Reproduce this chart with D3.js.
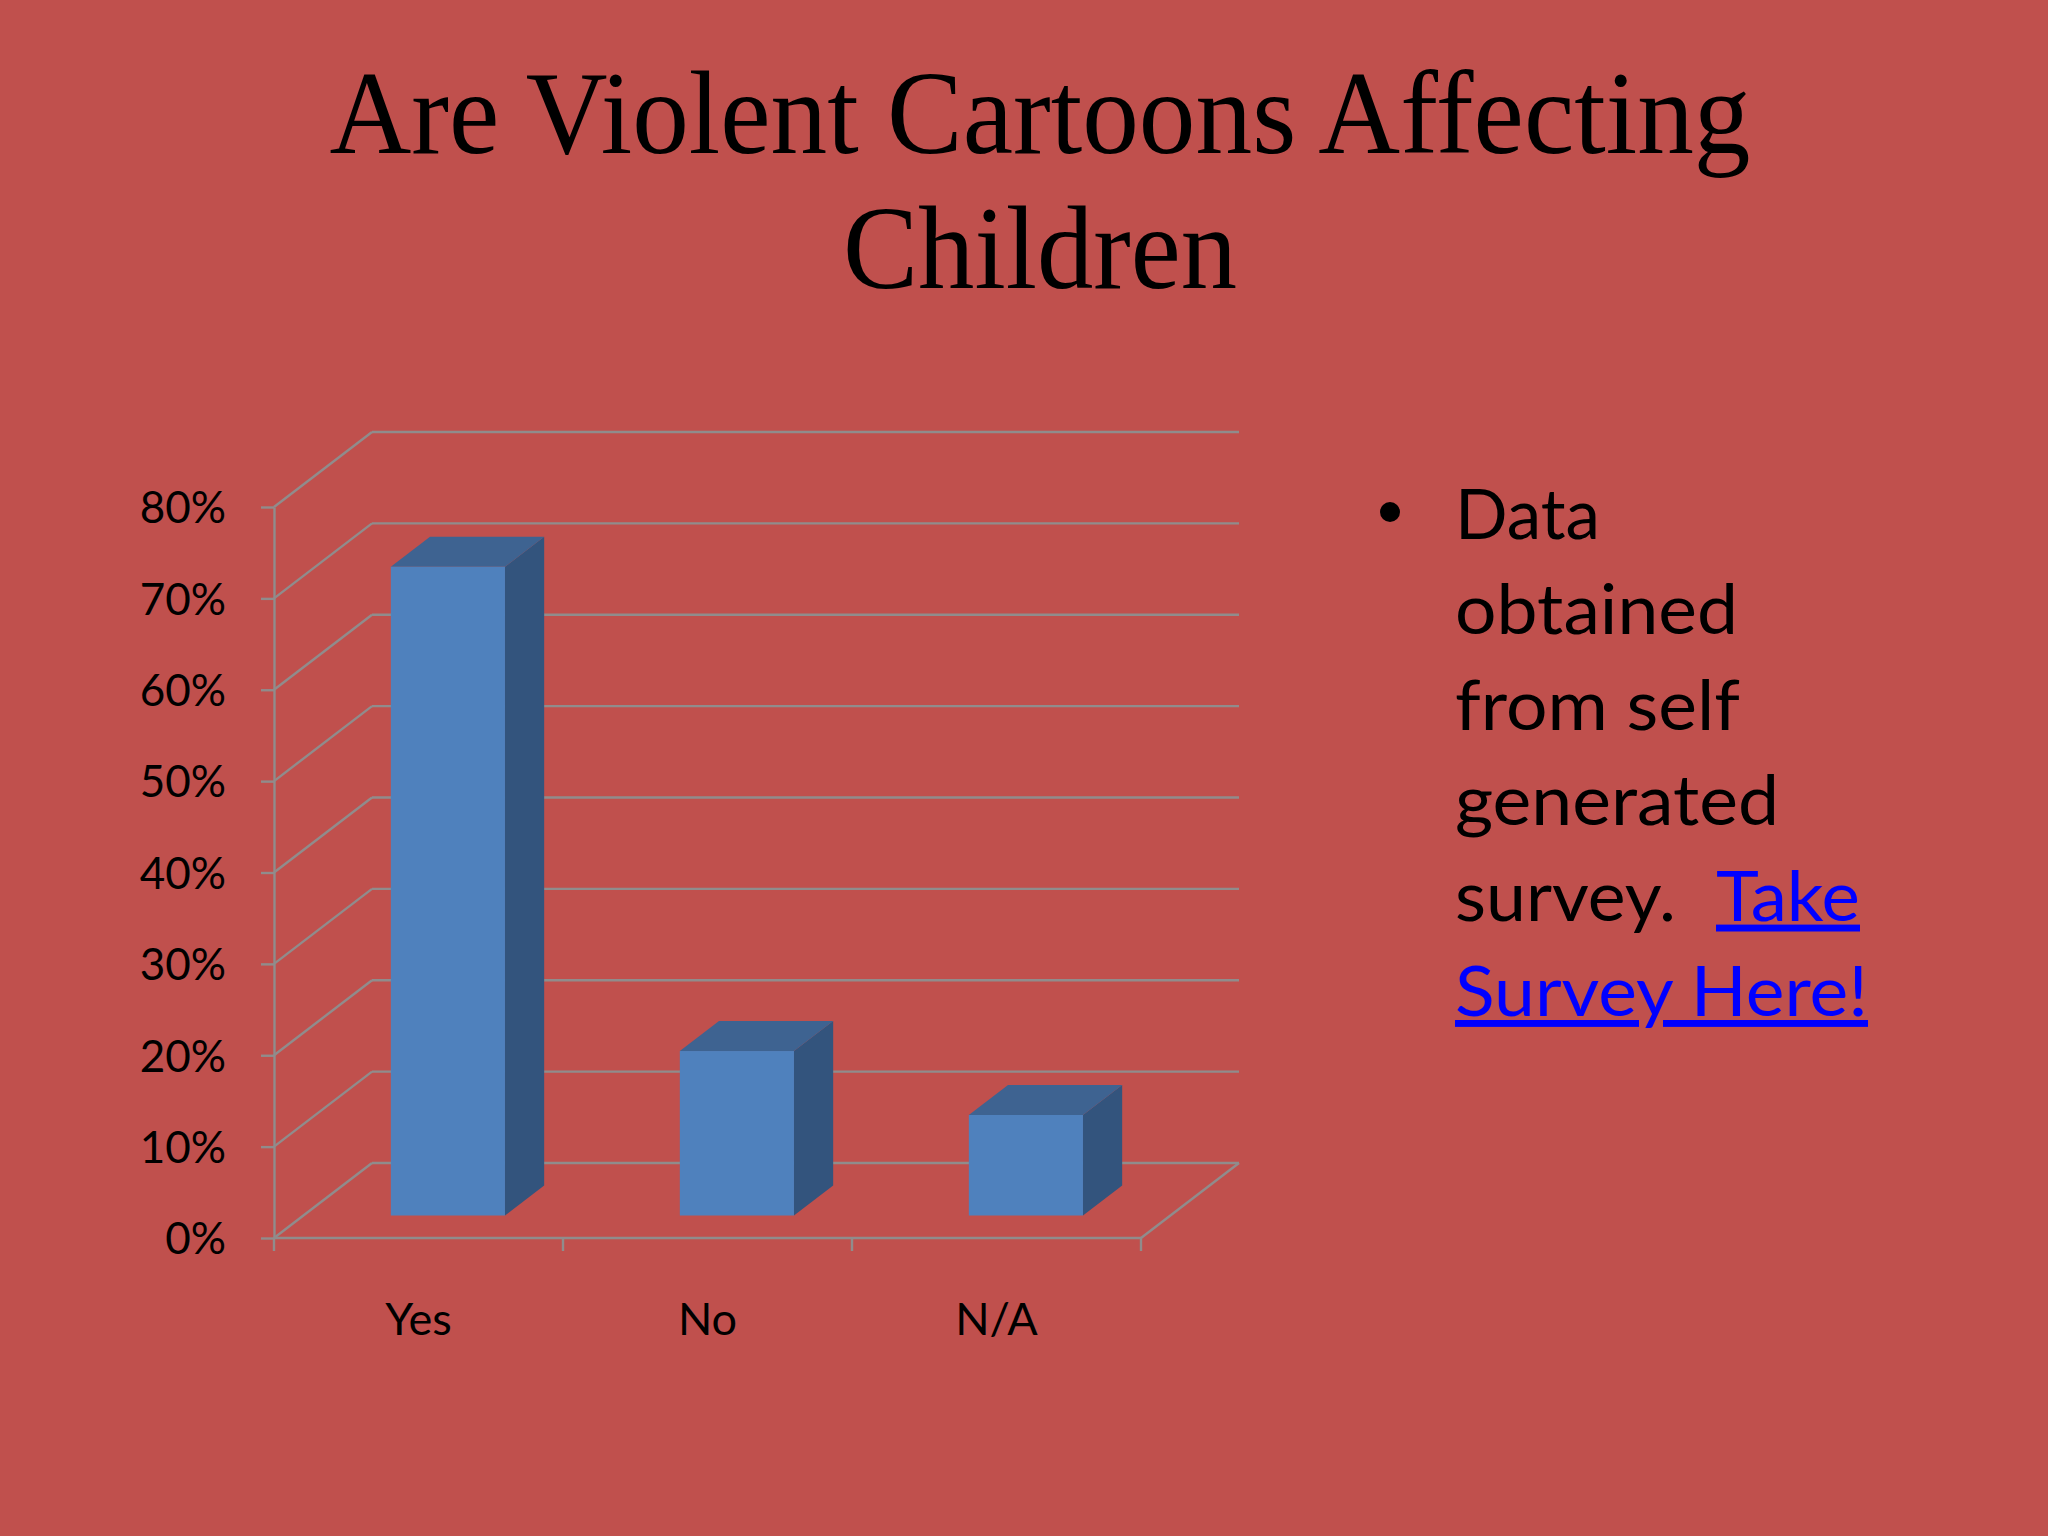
<!DOCTYPE html>
<html>
<head>
<meta charset="utf-8">
<script src="https://cdn.jsdelivr.net/npm/d3@7"></script>
<style>
  html, body { margin: 0; padding: 0; background: #C0504D; }
  svg { display: block; }
</style>
</head>
<body>
<div id="chart"></div>
<script>
// chart values
const categories = ["Yes", "No", "N/A"];
const values = [0.71, 0.18, 0.11];
const yTicks = [0, 0.1, 0.2, 0.3, 0.4, 0.5, 0.6, 0.7, 0.8];
const titleLines = ["Are Violent Cartoons Affecting", "Children"];
const bulletLines = ["Data", "obtained", "from self", "generated", "survey."];
const linkLines = ["Take", "Survey Here!"];

const W = 2048, H = 1536;

const svg = d3.select("#chart").append("svg")
    .attr("width", W)
    .attr("height", H);

svg.append("rect")
    .attr("width", W).attr("height", H)
    .attr("fill", "#C0504D");

// title
svg.append("g").selectAll("text")
    .data(titleLines)
    .enter().append("text")
    .attr("x", 1040)
    .attr("y", (d, i) => 153 + i * 135)
    .attr("text-anchor", "middle")
    .attr("font-family", "'Liberation Serif', 'Times New Roman', serif")
    .attr("font-size", 118)
    .attr("fill", "#000")
    .attr("textLength", (d, i) => i === 0 ? 1421 : 394)
    .attr("lengthAdjust", "spacingAndGlyphs")
    .text(d => d);

// 3d-ish column chart
const depth = {dx: 98, dy: 75};      // full depth of the floor
const barZ = [0.3, 0.7];             // bars sit in the middle of the depth

const x = d3.scaleBand()
    .domain(categories)
    .range([274, 1141])
    .paddingInner(0.605)
    .paddingOuter(0.3025);

const xCat = d3.scaleBand()
    .domain(categories)
    .range([274, 1141]);

const y = d3.scaleLinear()
    .domain([0, 0.8])
    .range([1238, 507]);

const gridColor = "#908c8c";
const gridWidth = 2.4;

const grid = svg.append("g")
    .attr("fill", "none")
    .attr("stroke", gridColor)
    .attr("stroke-width", gridWidth);

// back wall horizontals
grid.selectAll(".back")
    .data(yTicks)
    .enter().append("line")
    .attr("x1", 274 + depth.dx)
    .attr("x2", 1141 + depth.dx)
    .attr("y1", d => y(d) - depth.dy)
    .attr("y2", d => y(d) - depth.dy);

// side wall diagonals
grid.selectAll(".side")
    .data(yTicks)
    .enter().append("line")
    .attr("x1", 274)
    .attr("x2", 274 + depth.dx)
    .attr("y1", d => y(d))
    .attr("y2", d => y(d) - depth.dy);

// floor right edge
grid.append("line")
    .attr("x1", 1141).attr("y1", y(0))
    .attr("x2", 1141 + depth.dx).attr("y2", y(0) - depth.dy);

// y axis on the front edge
const yAxis = d3.axisLeft(y)
    .tickValues(yTicks)
    .tickFormat(d3.format(".0%"))
    .tickSize(13)
    .tickSizeOuter(0)
    .tickPadding(35);

const gy = svg.append("g")
    .attr("transform", "translate(274,0)")
    .call(yAxis);
gy.select(".domain").attr("stroke", gridColor).attr("stroke-width", gridWidth);
gy.selectAll(".tick line").attr("stroke", gridColor).attr("stroke-width", gridWidth);
gy.selectAll(".tick text")
    .attr("font-family", "Lato, 'Open Sans', sans-serif")
    .attr("font-size", 44)
    .attr("fill", "#000")
    .attr("dy", "0.36em");

// x axis: front floor edge, ticks at the category boundaries
const gx = svg.append("g");
gx.append("line")
    .attr("x1", 274).attr("x2", 1141)
    .attr("y1", y(0)).attr("y2", y(0))
    .attr("stroke", gridColor).attr("stroke-width", gridWidth);
gx.selectAll(".xtick")
    .data(categories.map(c => xCat(c)).concat([xCat(categories[categories.length - 1]) + xCat.bandwidth()]))
    .enter().append("line")
    .attr("x1", d => d).attr("x2", d => d)
    .attr("y1", y(0)).attr("y2", y(0) + 13)
    .attr("stroke", gridColor).attr("stroke-width", gridWidth);
gx.selectAll(".xlabel")
    .data(categories)
    .enter().append("text")
    .attr("x", d => xCat(d) + xCat.bandwidth() / 2)
    .attr("y", 1335)
    .attr("text-anchor", "middle")
    .attr("font-family", "Lato, 'Open Sans', sans-serif")
    .attr("font-size", 45)
    .attr("fill", "#000")
    .text(d => d);

// bars
const bars = svg.append("g").selectAll("g")
    .data(categories.map((c, i) => ({cat: c, value: values[i]})))
    .enter().append("g");

function pt(px, py) { return px + "," + py; }

bars.each(function(d) {
    const g = d3.select(this);
    const x0 = x(d.cat) + barZ[0] * depth.dx;
    const x1 = x0 + x.bandwidth();
    const yTop = y(d.value) - barZ[0] * depth.dy;
    const yBot = y(0) - barZ[0] * depth.dy;
    const bdx = (barZ[1] - barZ[0]) * depth.dx;
    const bdy = (barZ[1] - barZ[0]) * depth.dy;

    // right side
    g.append("polygon")
        .attr("points", [pt(x1, yTop), pt(x1 + bdx, yTop - bdy), pt(x1 + bdx, yBot - bdy), pt(x1, yBot)].join(" "))
        .attr("fill", "#33547D");
    // top
    g.append("polygon")
        .attr("points", [pt(x0, yTop), pt(x1, yTop), pt(x1 + bdx, yTop - bdy), pt(x0 + bdx, yTop - bdy)].join(" "))
        .attr("fill", "#3E6391");
    // front
    g.append("rect")
        .attr("x", x0)
        .attr("y", yTop)
        .attr("width", x1 - x0)
        .attr("height", yBot - yTop)
        .attr("fill", "#4F81BD");
});

// bullet text on the right (Calibri is wider than Lato, so stretch each line)
const lineWidth = {"Data": 145, "obtained": 283, "from self": 285, "generated": 324,
                   "survey.": 221, "Take": 144, "Survey Here!": 413};
const lineStep = 95.4;

const txt = svg.append("g")
    .attr("font-family", "Lato, 'Open Sans', sans-serif")
    .attr("font-size", 69)
    .attr("fill", "#000");

txt.append("circle")
    .attr("cx", 1390).attr("cy", 512).attr("r", 10)
    .attr("fill", "#000");

txt.selectAll(".line")
    .data(bulletLines)
    .enter().append("text")
    .attr("x", 1455)
    .attr("y", (d, i) => 539 + i * lineStep)
    .attr("textLength", d => lineWidth[d])
    .attr("lengthAdjust", "spacingAndGlyphs")
    .text(d => d);

txt.append("text")
    .attr("x", 1716)
    .attr("y", 539 + 4 * lineStep)
    .attr("fill", "#0000FF")
    .attr("text-decoration", "underline")
    .attr("textLength", lineWidth[linkLines[0]])
    .attr("lengthAdjust", "spacingAndGlyphs")
    .text(linkLines[0]);

txt.append("text")
    .attr("x", 1455)
    .attr("y", 539 + 5 * lineStep)
    .attr("fill", "#0000FF")
    .attr("text-decoration", "underline")
    .attr("textLength", lineWidth[linkLines[1]])
    .attr("lengthAdjust", "spacingAndGlyphs")
    .text(linkLines[1]);
</script>
</body>
</html>
